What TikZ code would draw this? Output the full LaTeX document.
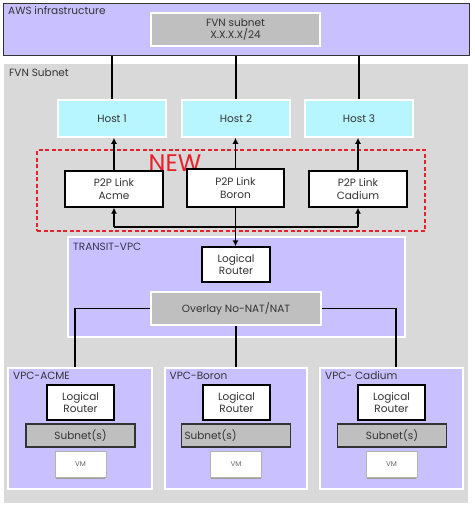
\documentclass[tikz,border=0pt]{standalone}
\usepackage{fontspec}
\setmainfont{Poppins}
\usetikzlibrary{arrows.meta}
\definecolor{lav}{HTML}{C9C0FF}
\definecolor{areagray}{HTML}{D9D9D9}
\definecolor{midgray}{HTML}{BFBFBF}
\definecolor{hostcyan}{HTML}{B8F6FF}
\definecolor{txt}{HTML}{333333}
\definecolor{vpctxt}{HTML}{3A3450}
\definecolor{newred}{HTML}{E8202A}
\tikzset{
  base/.style={rectangle, inner sep=0pt, align=center, text=txt, font=\fontsize{10.5}{12.5}\selectfont},
  lavbox/.style={base, fill=lav, draw=white, line width=1.5pt},
  graybox/.style={base, fill=midgray, draw=white, line width=1.5pt},
  hostbox/.style={base, fill=hostcyan, draw=white, line width=1.5pt, minimum width=108pt, minimum height=37pt},
  whitebox/.style={base, fill=white, draw=black, line width=1.4pt},
  subnetbox/.style={base, fill=midgray, draw=txt, line width=1.2pt, minimum width=109pt, minimum height=23pt},
  vmbox/.style={base, fill=white, draw=gray!60, line width=0.6pt, minimum width=51pt, minimum height=26pt, font=\fontsize{7}{8}\selectfont, text=gray!80!black},
  lbl/.style={anchor=north west, inner sep=0pt, text=txt, font=\fontsize{10.5}{12.5}\selectfont},
  conn/.style={line width=1.5pt, black},
  arr/.style={conn, -{Latex[length=6pt,width=6pt]}},
}
\begin{document}
\begin{tikzpicture}[x=1pt,y=-1pt]
\useasboundingbox (0,0) rectangle (474,506);
\fill[white] (0,0) rectangle (474,506);
% AWS infrastructure
\node[base, fill=lav, draw=txt, line width=1pt, minimum width=466pt, minimum height=52pt] (aws) at (236,29) {};
\node[lbl] (awsl) at (8,6.5) {AWS infrastructure};
\node[graybox, minimum width=169pt, minimum height=33pt] (fvn) at (235.5,29.5) {FVN subnet\\X.X.X.X/24};
% FVN Subnet area
\node[base, fill=areagray, minimum width=464pt, minimum height=439pt] (area) at (236,283.5) {};
\node[lbl] (areal) at (9,68.5) {FVN Subnet};
% Hosts
\node[hostbox] (h1) at (112,118.5) {Host 1};
\node[hostbox] (h2) at (236,118.5) {Host 2};
\node[hostbox] (h3) at (359,118.5) {Host 3};
\draw[conn] (h1.north) -- (h1.north |- aws.south);
\draw[conn] (h2.north) -- (h2.north |- aws.south);
\draw[conn] (h3.north) -- (h3.north |- aws.south);
% NEW region
\node[base, draw=newred, dashed, dash pattern=on 4pt off 2.5pt, line width=1.3pt, minimum width=388pt, minimum height=81pt] (newbox) at (231,190.5) {};
\node[base, text=newred, font=\fontsize{24}{26}\selectfont] (newl) at (175,163) {NEW};
% P2P links
\node[whitebox, minimum width=98pt, minimum height=36pt] (p1) at (114,189) {P2P Link\\Acme};
\node[whitebox, minimum width=97pt, minimum height=38pt] (p2) at (235.5,188) {P2P Link\\Boron};
\node[whitebox, minimum width=98pt, minimum height=36pt] (p3) at (358,189) {P2P Link\\Cadium};
\draw[arr] (p1.north) -- (p1.north |- h1.south);
\draw[arr] (p2.north) -- (p2.north |- h2.south);
\draw[arr] (p3.north) -- (p3.north |- h3.south);
% Transit VPC
\node[lavbox, minimum width=337pt, minimum height=100pt] (tvpc) at (236.5,287) {};
\node[lbl, text=vpctxt] (tvpcl) at (73,243) {TRANSIT-VPC};
\node[whitebox, minimum width=68pt, minimum height=35pt] (tlr) at (236,264.5) {Logical\\Router};
\node[graybox, minimum width=170pt, minimum height=33pt] (ov) at (236,308.5) {Overlay No-NAT/NAT};
% bus
\coordinate (busL) at (114,227);
\coordinate (busR) at (358,227);
\draw[conn] (busL) -- (busR);
\draw[arr] (busL) -- (p1.south);
\draw[arr] (busR) -- (p3.south);
\draw[arr] (p2.south) -- (p2.south |- tlr.north);
% VPCs
\node[lavbox, minimum width=144pt, minimum height=121pt] (v1) at (80,428.5) {};
\node[lavbox, minimum width=142pt, minimum height=121pt] (v2) at (236,428.5) {};
\node[lavbox, minimum width=143pt, minimum height=121pt] (v3) at (391.5,428.5) {};
\node[lbl] (v1l) at (13,371.5) {VPC-ACME};
\node[lbl] (v2l) at (169.5,371.5) {VPC-Boron};
\node[lbl] (v3l) at (325,371.5) {VPC- Cadium};
\node[whitebox, minimum width=67pt, minimum height=35pt] (lr1) at (80.5,402.5) {Logical\\Router};
\node[whitebox, minimum width=67pt, minimum height=35pt] (lr2) at (236.5,402.5) {Logical\\Router};
\node[whitebox, minimum width=67pt, minimum height=35pt] (lr3) at (391.5,402.5) {Logical\\Router};
\node[subnetbox] (s1) at (80.5,435.5) {Subnet(s)};
\node[subnetbox, text width=103pt, align=left, inner xsep=3pt] (s2) at (236,435.5) {Subnet(s)};
\node[subnetbox] (s3) at (392,435.5) {Subnet(s)};
\node[vmbox] (vm1) at (80.5,464) {VM};
\node[vmbox] (vm2) at (236,464) {VM};
\node[vmbox] (vm3) at (391.5,464) {VM};
\foreach \v in {vm1,vm2,vm3}
  \draw[gray!75, line width=1.8pt] ([yshift=-1.2pt,xshift=1pt]\v.south west) -- ([yshift=-1.2pt,xshift=-1pt]\v.south east);
% overlay to VPCs
\draw[conn] (ov.west) -| ([xshift=-5pt]v1.north);
\draw[conn] (ov.south) -- (ov.south |- v2.north);
\draw[conn] (ov.east) -| ([xshift=4.5pt]v3.north);
\end{tikzpicture}
\end{document}
